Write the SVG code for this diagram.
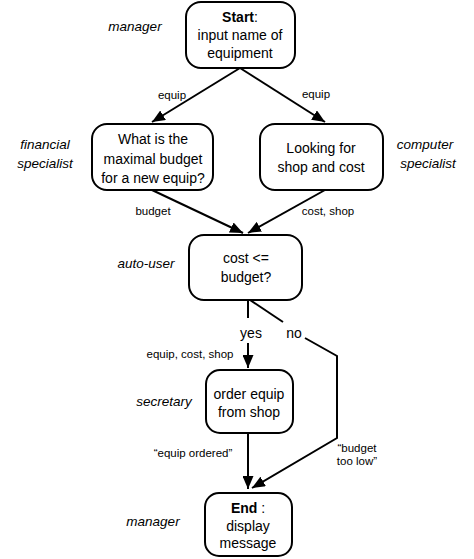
<svg xmlns="http://www.w3.org/2000/svg" width="474" height="559" viewBox="0 0 474 559">
<defs>
<marker id="ah" viewBox="0 0 13 11" refX="13" refY="5.5" markerWidth="13" markerHeight="11" markerUnits="userSpaceOnUse" orient="auto">
<path d="M0,0 L13,5.5 L0,11 Z" fill="#000"/>
</marker>
</defs>
<style>
.box{fill:#fff;stroke:#000;stroke-width:2}
.t{font-family:"Liberation Sans",Arial,sans-serif;font-size:14px;text-anchor:middle;fill:#000}
.b{font-weight:bold}
.role{font-family:"Liberation Sans",Arial,sans-serif;font-size:13.5px;font-style:italic;text-anchor:middle;fill:#000}
.lbl{font-family:"Liberation Sans",Arial,sans-serif;font-size:11.5px;text-anchor:middle;fill:#000}
.e{fill:none;stroke:#000;stroke-width:2}
</style>
<rect width="474" height="559" fill="#fff"/>
<g id="connectors">
<line class="e" x1="240" y1="68" x2="152" y2="122" marker-end="url(#ah)"/>
<line class="e" x1="240" y1="68" x2="325" y2="122" marker-end="url(#ah)"/>
<line class="e" x1="152" y1="190" x2="243" y2="233" marker-end="url(#ah)"/>
<line class="e" x1="325" y1="190" x2="248" y2="233" marker-end="url(#ah)"/>
<line class="e" x1="248" y1="300" x2="248" y2="318"/>
<line class="e" x1="248" y1="343" x2="248" y2="368" marker-end="url(#ah)"/>
<polyline class="e" points="250,300 283,322"/>
<polyline class="e" points="305,338 337,356 337,438 252,488" marker-end="url(#ah)"/>
<line class="e" x1="248" y1="433" x2="248" y2="489" marker-end="url(#ah)"/>
<text class="lbl" x="172" y="99">equip</text>
<text class="lbl" x="316" y="98">equip</text>
<text class="lbl" x="153" y="215">budget</text>
<text class="lbl" x="328" y="215">cost, shop</text>
<text class="t" x="251" y="338">yes</text>
<text class="t" x="294" y="338">no</text>
<text class="lbl" x="190" y="358">equip, cost, shop</text>
<text class="lbl" x="193" y="457">“equip ordered”</text>
<text class="lbl" x="357" y="452">“budget</text>
<text class="lbl" x="357" y="465">too low”</text>
</g>
<g id="start">
<rect class="box" x="186" y="2" width="109" height="66" rx="15"/>
<text class="t" x="240" y="22"><tspan class="b">Start</tspan>:</text>
<text class="t" x="240" y="40">input name of</text>
<text class="t" x="240" y="58">equipment</text>
</g>
<g id="financial">
<rect class="box" x="92" y="124" width="121" height="66" rx="15"/>
<text class="t" x="153" y="144">What is the</text>
<text class="t" x="153" y="164">maximal budget</text>
<text class="t" x="153" y="183">for a new equip?</text>
</g>
<g id="computer">
<rect class="box" x="260" y="124" width="123" height="66" rx="15"/>
<text class="t" x="321" y="153">Looking for</text>
<text class="t" x="321" y="172">shop and cost</text>
</g>
<g id="decision">
<rect class="box" x="189" y="235" width="113" height="65" rx="15"/>
<text class="t" x="246" y="263">cost &lt;=</text>
<text class="t" x="246" y="282">budget?</text>
</g>
<g id="secretary">
<rect class="box" x="206" y="370" width="87" height="63" rx="14"/>
<text class="t" x="249" y="399">order equip</text>
<text class="t" x="249" y="417">from shop</text>
</g>
<g id="end">
<rect class="box" x="205" y="493" width="87" height="63" rx="14"/>
<text class="t" x="248" y="513"><tspan class="b">End</tspan> :</text>
<text class="t" x="248" y="531">display</text>
<text class="t" x="248" y="548">message</text>
</g>
<g id="roles">
<text class="role" x="135" y="31">manager</text>
<text class="role" x="45" y="149">financial</text>
<text class="role" x="45" y="168">specialist</text>
<text class="role" x="425" y="149">computer</text>
<text class="role" x="428" y="168">specialist</text>
<text class="role" x="146" y="268">auto-user</text>
<text class="role" x="164" y="406">secretary</text>
<text class="role" x="153" y="526">manager</text>
</g>
</svg>
